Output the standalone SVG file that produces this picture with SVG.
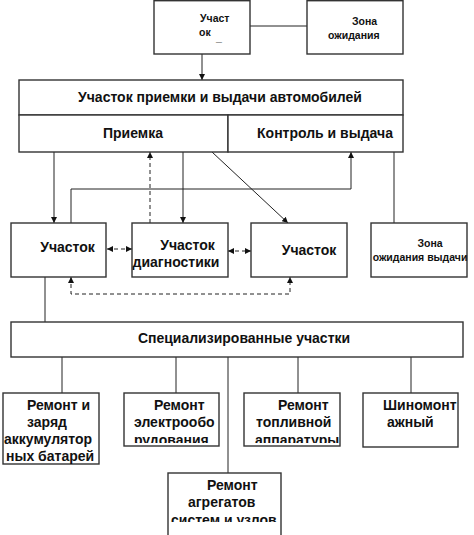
<svg xmlns="http://www.w3.org/2000/svg" width="474" height="535" viewBox="0 0 474 535">
<style>
  .box{fill:#fff;stroke:#333;stroke-width:1.4}
  .ln{fill:none;stroke:#222;stroke-width:1}
  .ds{fill:none;stroke:#222;stroke-width:1;stroke-dasharray:4,3}
  text{font-family:"Liberation Sans",Arial,sans-serif;font-weight:bold;fill:#111}
  .t14{font-size:14px}
  .t11{font-size:10.5px}
</style>
<defs>
  <marker id="ah" viewBox="0 0 10 10" refX="10" refY="5" markerWidth="6" markerHeight="6" orient="auto-start-reverse" markerUnits="userSpaceOnUse">
    <path d="M0,0 L10,5 L0,10 z" fill="#111"/>
  </marker>
  <clipPath id="cB"><rect x="124" y="393" width="96" height="50"/></clipPath>
  <clipPath id="cC"><rect x="244" y="393" width="97" height="50"/></clipPath>
  <clipPath id="cE"><rect x="168" y="473" width="114" height="49"/></clipPath>
</defs>
<rect width="474" height="535" fill="#fff"/>

<g id="connectors">
  <line class="ln" x1="250" y1="26" x2="307" y2="26"/>
  <line class="ln" x1="202" y1="54" x2="202" y2="80" marker-end="url(#ah)"/>
  <line class="ln" x1="54" y1="152" x2="54" y2="223" marker-end="url(#ah)"/>
  <polyline class="ln" points="71,223 71,189 351,189 351,152" marker-end="url(#ah)"/>
  <line class="ds" x1="150" y1="223" x2="150" y2="152" marker-end="url(#ah)"/>
  <line class="ln" x1="183" y1="152" x2="183" y2="223" marker-end="url(#ah)"/>
  <line class="ln" x1="212" y1="152" x2="288" y2="223" marker-end="url(#ah)"/>
  <line class="ln" x1="394" y1="152" x2="394" y2="223"/>
  <line class="ds" x1="107" y1="249" x2="132" y2="249" marker-start="url(#ah)" marker-end="url(#ah)"/>
  <line class="ds" x1="228" y1="251" x2="251" y2="251" marker-start="url(#ah)" marker-end="url(#ah)"/>
  <polyline class="ds" points="71,277 71,294 290,294 290,277" marker-start="url(#ah)" marker-end="url(#ah)"/>
  <line class="ln" x1="45" y1="277" x2="45" y2="322"/>
  <line class="ln" x1="62" y1="357" x2="62" y2="393"/>
  <line class="ln" x1="176" y1="357" x2="176" y2="393"/>
  <line class="ln" x1="228" y1="357" x2="228" y2="473"/>
  <line class="ln" x1="298" y1="357" x2="298" y2="393"/>
  <line class="ln" x1="411" y1="357" x2="411" y2="393"/>
</g>

<g id="n-top-uchastok">
  <rect class="box" x="154" y="0.7" width="96" height="53.3"/>
  <text class="t11" x="200" y="22">Участ</text>
  <text class="t11" x="199" y="36">ок</text>
  <text class="t11" x="216" y="41">_</text>
</g>
<g id="n-top-zona">
  <rect class="box" x="307" y="0.7" width="96" height="53.3"/>
  <text class="t11" x="352" y="25">Зона</text>
  <text class="t11" x="328" y="39">ожидания</text>
</g>

<g id="n-priemka-vydacha">
  <rect class="box" x="19" y="80" width="384" height="35"/>
  <text class="t14" x="220" y="102" text-anchor="middle">Участок приемки и выдачи автомобилей</text>
</g>
<g id="n-priemka">
  <rect class="box" x="19" y="115" width="209" height="37"/>
  <text class="t14" x="133" y="138" text-anchor="middle">Приемка</text>
</g>
<g id="n-kontrol">
  <rect class="box" x="228" y="115" width="175" height="37"/>
  <text class="t14" x="325" y="138" text-anchor="middle">Контроль и выдача</text>
</g>

<g id="n-uchastok1">
  <rect class="box" x="11" y="223" width="95" height="54"/>
  <text class="t14" x="67.5" y="252" text-anchor="middle">Участок</text>
</g>
<g id="n-diagnostika">
  <rect class="box" x="132" y="223" width="96" height="54"/>
  <text class="t14" x="187.5" y="250" text-anchor="middle">Участок</text>
  <text class="t14" x="176" y="267" text-anchor="middle">диагностики</text>
</g>
<g id="n-uchastok3">
  <rect class="box" x="251" y="223" width="96" height="54"/>
  <text class="t14" x="309" y="255" text-anchor="middle">Участок</text>
</g>
<g id="n-zona-vydachi">
  <rect class="box" x="371" y="223" width="96" height="54"/>
  <text class="t11" x="430" y="247" text-anchor="middle">Зона</text>
  <text class="t11" x="420" y="261" text-anchor="middle">ожидания выдачи</text>
</g>

<g id="n-special">
  <rect class="box" x="11" y="322" width="452" height="35"/>
  <text class="t14" x="244" y="343" text-anchor="middle">Специализированные участки</text>
</g>

<g id="n-akkum">
  <rect class="box" x="3" y="393" width="96" height="71"/>
  <text class="t14" x="27" y="410">Ремонт и</text>
  <text class="t14" x="27" y="427">заряд</text>
  <text class="t14" x="4" y="444">аккумулятор</text>
  <text class="t14" x="6" y="461">ных батарей</text>
</g>
<g id="n-elektro">
  <rect class="box" x="124" y="393" width="95" height="53"/>
  <g clip-path="url(#cB)">
    <text class="t14" x="154" y="410">Ремонт</text>
    <text class="t14" x="134" y="427">электрообо</text>
    <text class="t14" x="134" y="445">рудования</text>
  </g>
</g>
<g id="n-toplivo">
  <rect class="box" x="244" y="393" width="96" height="53"/>
  <g clip-path="url(#cC)">
    <text class="t14" x="278" y="410">Ремонт</text>
    <text class="t14" x="256" y="427">топливной</text>
    <text class="t14" x="255" y="445">аппаратуры</text>
  </g>
</g>
<g id="n-shino">
  <rect class="box" x="363" y="393" width="95" height="54"/>
  <text class="t14" x="383" y="410">Шиномонт</text>
  <text class="t14" x="387" y="427">ажный</text>
</g>
<g id="n-agregat">
  <rect class="box" x="168" y="473" width="113" height="70"/>
  <g clip-path="url(#cE)">
    <text class="t14" x="207" y="490">Ремонт</text>
    <text class="t14" x="188" y="507">агрегатов</text>
    <text class="t14" x="171" y="525">систем и узлов</text>
  </g>
</g>
</svg>
